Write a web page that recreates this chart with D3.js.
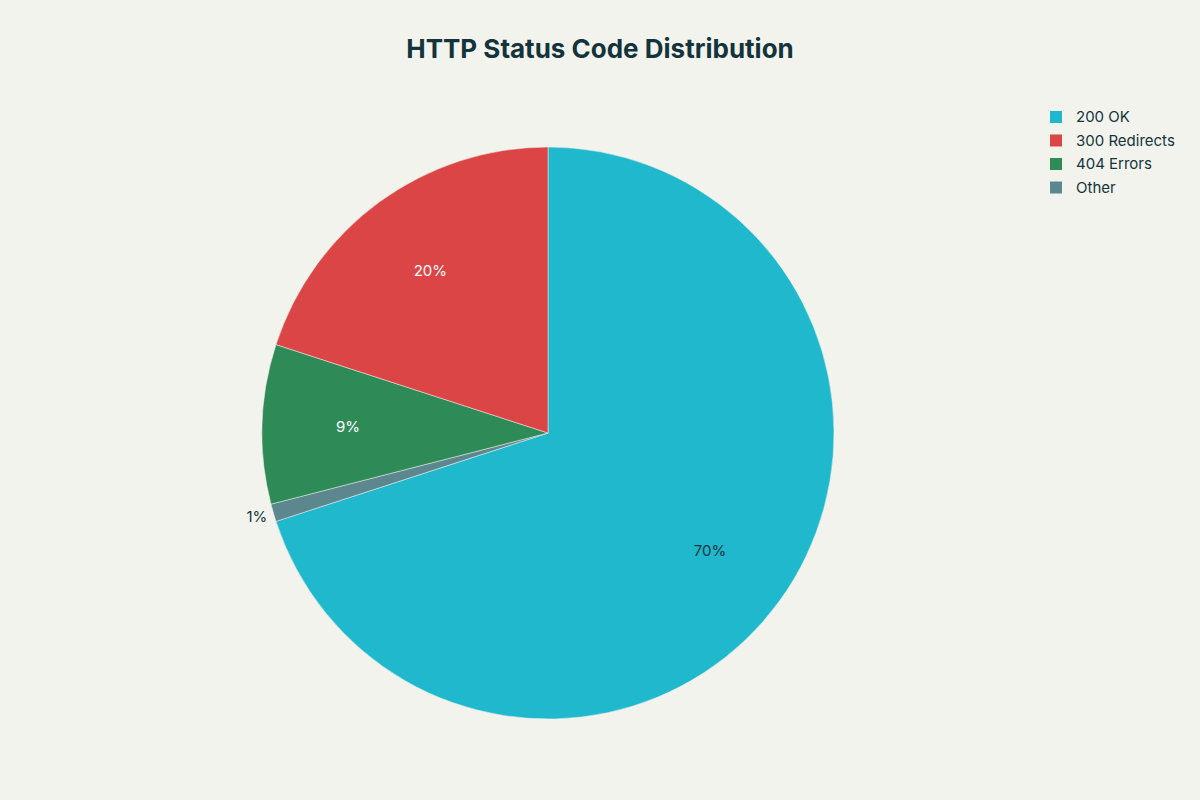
<!DOCTYPE html>
<html><head><meta charset="utf-8">
<script src="https://cdn.jsdelivr.net/npm/d3@7"></script>
<style>body{margin:0;background:#F3F3EE;font-family:Inter,"Open Sans",sans-serif;}</style>
</head><body><svg id="c" width="1200" height="800"></svg>
<script>
const categories = ["200 OK", "300 Redirects", "404 Errors", "Other"];
const values = [70, 20, 9, 1];
const colors = ["#1FB8CD", "#DB4545", "#2E8B57", "#5D878F"];
// Plotly-style drawing order (clockwise from top)
const drawOrder = ["200 OK", "Other", "404 Errors", "300 Redirects"];

const svg = d3.select("#c");
svg.append("rect").attr("width",1200).attr("height",800).attr("fill","#F3F3EE");
svg.append("text").attr("x",600).attr("y",58).attr("text-anchor","middle")
  .attr("font-size",26).attr("font-weight","bold").attr("fill","#13343B").text("HTTP Status Code Distribution");

const data = drawOrder.map(n => ({name:n, value:values[categories.indexOf(n)], color:colors[categories.indexOf(n)]}));
const cx=548, cy=433, r=286;
const pie = d3.pie().value(d=>d.value).sort(null);
const arc = d3.arc().innerRadius(0).outerRadius(r);
const g = svg.append("g").attr("transform",`translate(${cx},${cy})`);
const arcs = pie(data);
g.selectAll("path").data(arcs).join("path").attr("d",arc).attr("fill",d=>d.data.color)
  .attr("stroke","#F3F3EE").attr("stroke-width",0.5);
const total = d3.sum(values);
const labelArc = d3.arc().innerRadius(r*0.5).outerRadius(r*0.9);
arcs.forEach(a=>{
  const pct = Math.round(a.data.value/total*100)+"%";
  let x,y,fill;
  if (a.data.value/total < 0.03) {
    const m=(a.startAngle+a.endAngle)/2, rr=r+13;
    x=Math.sin(m)*rr-4; y=-Math.cos(m)*rr; fill="#13343B";
    g.append("text").attr("x",x).attr("y",y).attr("dy","0.35em").attr("text-anchor","middle")
      .attr("font-size",15).attr("fill",fill).text(pct);
  } else {
    [x,y]=labelArc.centroid(a);
    fill = a.data.name==="200 OK" ? "#13343B" : "#ffffff";
    g.append("text").attr("x",x).attr("y",y).attr("dy","0.35em").attr("text-anchor","middle")
      .attr("font-size",15).attr("fill",fill).text(pct);
  }
});
const lg = svg.append("g").attr("transform","translate(1050,117)");
categories.forEach((c,i)=>{
  const row = lg.append("g").attr("transform",`translate(0,${i*23.5})`);
  row.append("rect").attr("x",0).attr("y",-6).attr("width",12).attr("height",12).attr("fill",colors[i]);
  row.append("text").attr("x",26).attr("y",0).attr("dy","0.35em").attr("font-size",15).attr("fill","#13343B").text(c);
});
</script></body></html>
